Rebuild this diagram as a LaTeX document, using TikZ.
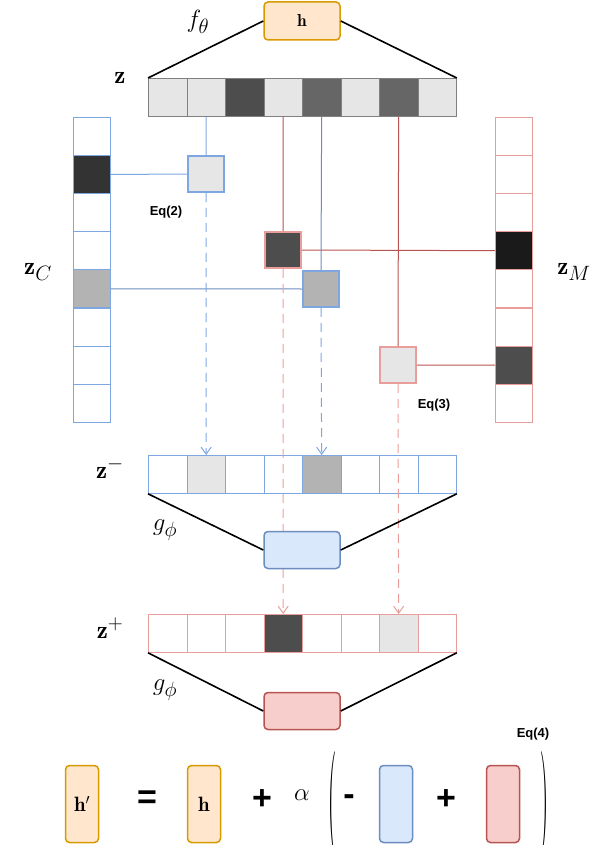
\documentclass[tikz,border=0pt]{standalone}
\usepackage{amsmath}
\usepackage{graphicx}
\usepackage{fontspec}
\newfontfamily\eqf{Liberation Sans}
\usetikzlibrary{arrows.meta}
\definecolor{bl}{HTML}{7EA6E0}
\definecolor{rd}{HTML}{EA9E9C}
\definecolor{rdl}{HTML}{B85450}
\definecolor{bll}{HTML}{6C8EBF}
\definecolor{or}{HTML}{D79B00}
\definecolor{orf}{HTML}{FFE6CC}
\definecolor{blf}{HTML}{DAE8FC}
\definecolor{rdf}{HTML}{F8CECC}
\definecolor{c1}{HTML}{E6E6E6}
\definecolor{c2}{HTML}{4D4D4D}
\definecolor{c3}{HTML}{666666}
\definecolor{c4}{HTML}{B3B3B3}
\definecolor{c5}{HTML}{333333}
\definecolor{c6}{HTML}{1A1A1A}
\begin{document}
\begin{tikzpicture}[x=1pt,y=-1pt,
  cell/.style={draw,minimum width=38.5pt,minimum height=38pt,inner sep=0,anchor=north west,line width=0.8pt},
  hcell/.style={draw,minimum width=37pt,minimum height=38pt,inner sep=0,anchor=north west,line width=0.8pt},
  sq/.style={draw,line width=1.6pt,minimum width=36pt,minimum height=36pt,inner sep=0},
  rbox/.style={draw,line width=1.5pt,rounded corners=4pt,inner sep=0},
  eq/.style={font=\eqf\bfseries\fontsize{13}{15}\selectfont},
  lab/.style={font=\Huge},
  op/.style={font=\eqf\bfseries\fontsize{34}{36}\selectfont},
  blk/.style={black,line width=1.6pt},
  bd/.style={bl,line width=1pt,dash pattern=on 9pt off 6pt,-{Straight Barb[length=7pt,width=10pt]}},
  rdd/.style={rd,line width=1pt,dash pattern=on 9pt off 6pt,-{Straight Barb[length=7pt,width=10pt]}}]
\useasboundingbox (0,0) rectangle (607,845);
% z bar
\foreach \i/\c in {0/c1,1/c1,2/c2,3/c1,4/c3,5/c1,6/c3,7/c1}
  \node[cell,draw=gray,fill=\c] (z\i) at (148+38.5*\i,78) {};
\node[rbox,draw=or,fill=orf,minimum width=76pt,minimum height=38pt] (h) at (302,21) {\LARGE$\mathbf{h}$};
\draw[blk] (h.west) -- (z0.north west);
\draw[blk] (h.east) -- (z7.north east);
\node[lab] (ft) at (198,22) {$f_\theta$};
\node[lab] (zl) at (120,78) {$\mathbf{z}$};
% zC and zM
\foreach \i/\c in {0/white,1/c5,2/white,3/white,4/c4,5/white,6/white,7/white}
  \node[hcell,draw=bl,fill=\c] (c\i) at (73,117+38.1*\i) {};
\foreach \i/\c in {0/white,1/white,2/white,3/c6,4/white,5/white,6/c2,7/white}
  \node[hcell,draw=rd,fill=\c] (m\i) at (495,117+38.1*\i) {};
\node[lab] (zcl) at (38,272) {$\mathbf{z}_C$};
\node[lab] (zml) at (574,272) {$\mathbf{z}_M$};
% small squares
\node[sq,draw=bl,fill=c1] (b1) at (206,174) {};
\node[sq,draw=rd,fill=c2] (r1) at (283,250) {};
\node[sq,draw=bl,fill=c4] (b2) at (321,289) {};
\node[sq,draw=rd,fill=c1] (r2) at (398,365) {};
\node[eq] (e2) at (166,212) {Eq(2)};
\node[eq] (e3) at (434,405) {Eq(3)};
\draw[bl,line width=1pt] (z1.south) -- (b1.north);
\draw[bl,line width=1pt] (c1.east) -- (b1.west);
\draw[rdl,line width=1pt] (z3.south) -- (r1.north);
\draw[rdl,line width=1pt] (r1.east) -- (m3.west);
\draw[bll,line width=1pt] (z4.south) -- (b2.north);
\draw[bll,line width=1pt] (c4.east) -- (b2.west);
\draw[rdl,line width=1pt] (z6.south) -- (r2.north);
\draw[rdl,line width=1pt] (r2.east) -- (m6.west);
% z- bar
\foreach \i/\c in {0/white,1/c1,2/white,3/white,4/c4,5/white,6/white,7/white}
  \node[cell,draw=bl,fill=\c] (n\i) at (148+38.5*\i,455) {};
\node[lab] (znl) at (110,468) {$\mathbf{z}^-$};
% z+ bar
\foreach \i/\c in {0/white,1/white,2/white,3/c2,4/white,5/white,6/c1,7/white}
  \node[cell,draw=rd,fill=\c] (p\i) at (148+38.5*\i,614) {};
\node[lab] (zpl) at (110,628) {$\mathbf{z}^+$};
% dashed arrows
\draw[bd] (b1.south) -- (n1.north);
\draw[bd] (b2.south) -- (n4.north);
\draw[rdd] (r1.south) -- (p3.north);
\draw[rdd] (r2.south) -- (p6.north);
% decoders
\node[rbox,draw=bll,fill=blf,minimum width=76pt,minimum height=37pt] (gb) at (302,550) {};
\draw[blk] (n0.south west) -- (gb.west);
\draw[blk] (gb.east) -- (n7.south east);
\node[lab] (g1) at (165,530) {$g_\phi$};
\node[rbox,draw=rdl,fill=rdf,minimum width=76pt,minimum height=37pt] (gr) at (302,711) {};
\draw[blk] (p0.south west) -- (gr.west);
\draw[blk] (gr.east) -- (p7.south east);
\node[lab] (g2) at (165,690) {$g_\phi$};
% equation
\node[eq] (e4) at (533,734) {Eq(4)};
\tikzset{tall/.style={rbox,minimum width=33pt,minimum height=77pt}}
\node[tall,draw=or,fill=orf] (hp) at (82,804) {\huge$\mathbf{h}'$};
\node[op] (eqs) at (147,800) {=};
\node[tall,draw=or,fill=orf] (h2) at (204,804) {\huge$\mathbf{h}$};
\node[op] (pl1) at (262,800) {+};
\node[font=\Huge] (al) at (302,795) {$\alpha$};
\node[inner sep=0] (lp) at (332,805) {\resizebox{8pt}{80pt}{$($}};
\node[op] (mn) at (349,800) {-};
\node[tall,draw=bll,fill=blf] (bb) at (396,804) {};
\node[op] (pl2) at (446,800) {+};
\node[tall,draw=rdl,fill=rdf] (rb) at (503,804) {};
\node[inner sep=0] (rp) at (544,805) {\resizebox{8pt}{80pt}{$)$}};
\end{tikzpicture}
\end{document}
